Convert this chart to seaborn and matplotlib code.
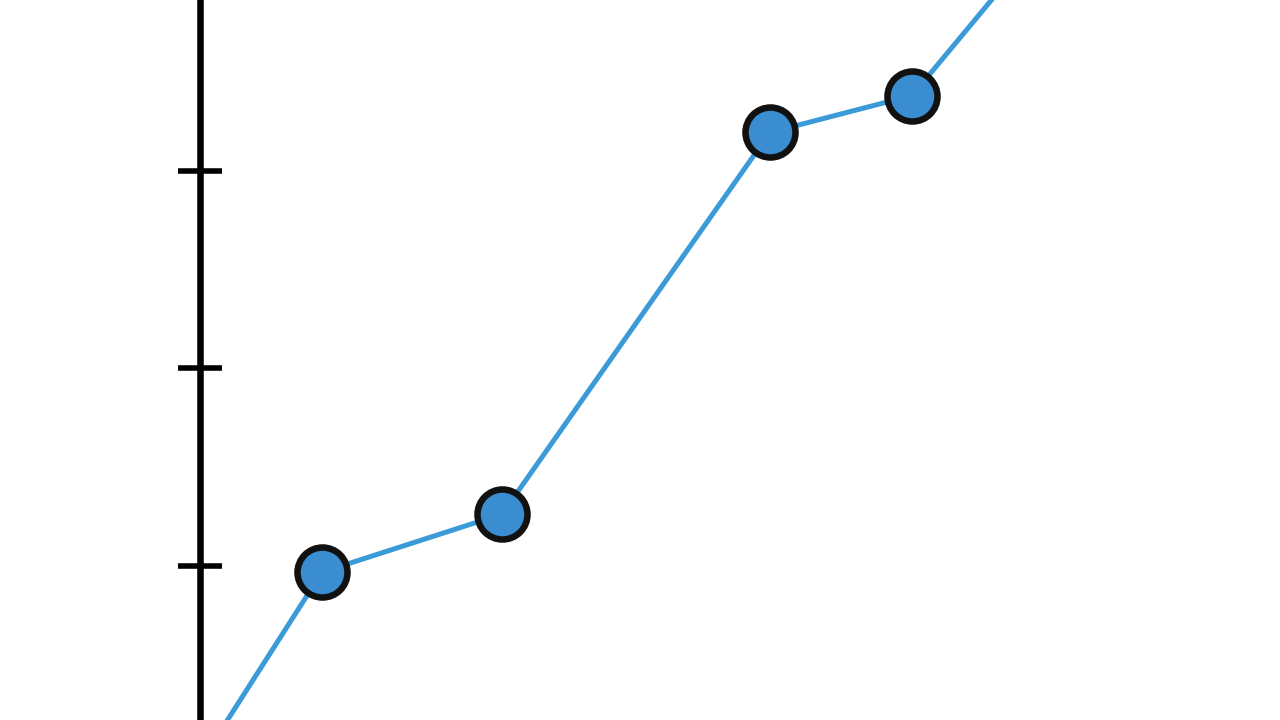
import matplotlib
matplotlib.use("Agg")
import matplotlib.pyplot as plt
import seaborn as sns
import pandas as pd

# data (zoomed-in view of a line chart)
x_vals = [0.0, 1.22, 3.02, 5.70, 7.12, 8.90]
y_vals = [0.0, 0.967, 1.261, 3.195, 3.382, 4.466]
y_ticks = [1, 2, 3]

df = pd.DataFrame({"x": x_vals, "y": y_vals})

sns.set_theme(style="white")
fig = plt.figure(figsize=(12.8, 7.2), dpi=100)
ax = fig.add_axes([0, 0, 1, 1])

line_color = "#3b9ad8"
sns.lineplot(data=df, x="x", y="y", ax=ax, color=line_color, linewidth=3.6,
             marker="o", markersize=36, markerfacecolor="#3a8dd0",
             markeredgecolor="#111111", markeredgewidth=4.7, zorder=3)

ax.set_xlim(-2.0, 10.8)
ax.set_ylim(0.218, 3.866)

for s in ["top", "right", "bottom"]:
    ax.spines[s].set_visible(False)
ax.spines["left"].set_position(("data", 0.0))
ax.spines["left"].set_color("black")
ax.spines["left"].set_linewidth(4.7)

ax.set_xticks([])
ax.set_yticks(y_ticks)
ax.set_yticklabels([])
ax.tick_params(axis="y", direction="inout", length=32, width=4.0, color="black", left=True)
ax.set_xlabel("")
ax.set_ylabel("")
ax.grid(False)
ax.set_facecolor("white")
fig.patch.set_facecolor("white")

fig.savefig("out.png", dpi=100)
